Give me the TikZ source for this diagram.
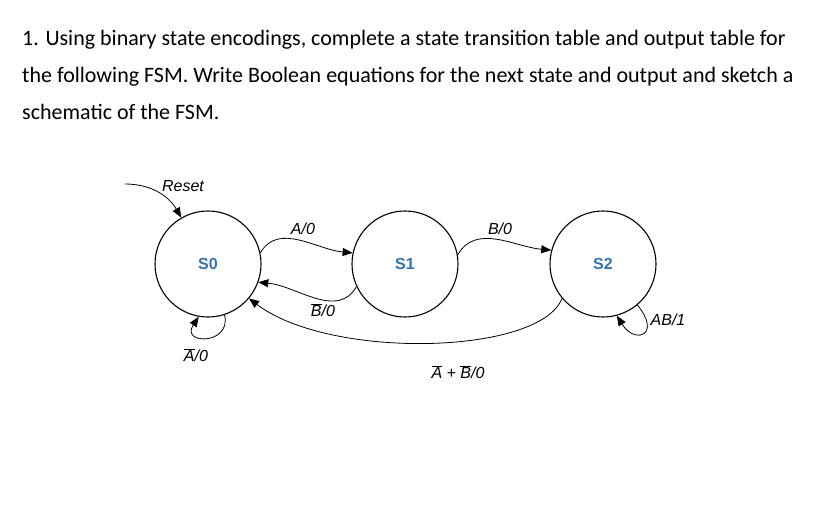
\documentclass[tikz,border=0pt]{standalone}
\usepackage{fontspec}
\setmainfont{Carlito}
\newfontfamily\lab{Liberation Sans}
\usetikzlibrary{arrows.meta}
\newcommand{\ovl}[1]{\ensuremath{\overline{\mbox{#1}}}}
\begin{document}
\begin{tikzpicture}[x=1pt,y=-1pt,
  st/.style={circle,draw,line width=1.1pt,minimum size=106pt,inner sep=0pt,font=\lab\bfseries\fontsize{16}{16}\selectfont,text=cyan!60!blue!80!black},
  lb/.style={font=\lab\itshape\fontsize{16}{16}\selectfont,inner sep=0pt},
  ar/.style={-{Triangle[length=10pt,width=8pt]},line width=0.8pt},
  tx/.style={anchor=base west,font=\fontsize{22}{22}\selectfont,inner sep=0pt}]
\useasboundingbox (0,0) rectangle (834,504);
\node[tx] (t1) at (22,45) {1. Using binary state encodings, complete a state transition table and output table for};
\node[tx] (t2) at (22,82) {the following FSM. Write Boolean equations for the next state and output and sketch a};
\node[tx] (t3) at (22,119) {schematic of the FSM.};
\node[st] (s0) at (208,264) {S0};
\node[st] (s1) at (405,264) {S1};
\node[st] (s2) at (603,264) {S2};
\coordinate (r) at (125,184);
\draw[ar] (r) to[out=0,in=120] (s0.120);
\node[lb] (lr) at (183,186) {Reset};
\draw[ar] (s0.12) to[out=60,in=175] (s1.168);
\draw[ar] (s1.205) to[out=240,in=-5] (s0.-20);
\draw[ar] (s1.10) to[out=60,in=175] (s2.165);
\draw[ar] (s2.-140) .. controls (540,355) and (330,360) .. (s0.-40);
\draw[ar] (s0.-72) .. controls (232,345) and (180,345) .. (s0.-100);
\draw[ar] (s2.-50) .. controls (662,335) and (635,345) .. (s2.-75);
\node[lb] at (303,229) {\textit{A}/0};
\node[lb] at (500,229) {\textit{B}/0};
\node[lb] at (323,310) {\ovl{\itshape B}/0};
\node[lb] at (196,355) {\ovl{\itshape A}/0};
\node[lb] at (458,372) {\ovl{\itshape A} + \ovl{\itshape B}/0};
\node[lb] at (668,320) {\textit{AB}/1};
\end{tikzpicture}
\end{document}
